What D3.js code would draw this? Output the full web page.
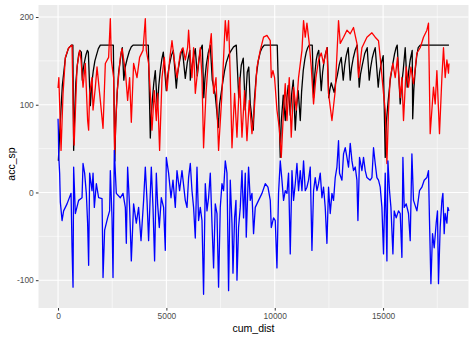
<!DOCTYPE html>
<html>
<head>
<meta charset="utf-8">
<script src="https://cdn.jsdelivr.net/npm/d3@7"></script>
<style>
  body { margin: 0; background: #ffffff; }
  svg { display: block; }
</style>
</head>
<body>
<svg id="chart" width="474" height="338"></svg>
<script>
// Modelled speed along the route: [cum_dist, acc_sp]
const modelSpeed = [
  [14,36],[106,82],[198,122],[337,153],[475,164],[614,168],[684,168],[720,48],[760,85],[820,125],[890,145],[950,157],
  [1006,162],[1075,160],[1121,128],[1160,140],[1213,148],[1290,157],[1352,162],[1398,160],[1490,99],[1560,125],[1628,139],[1700,150],[1767,156],[1860,164],[1951,168],
  [2551,168],[2620,36],[2660,80],[2735,116],[2800,138],[2874,151],[2920,160],[2966,165],[3035,128],[3100,143],[3197,153],[3290,161],[3382,166],[3474,168],[4166,168],
  [4258,62],[4300,88],[4350,105],[4420,125],[4488,139],[4581,97],[4650,122],[4719,139],[4790,152],[4858,160],[4996,116],[5060,133],[5134,145],[5230,156],[5319,162],[5457,119],
  [5520,136],[5596,148],[5670,158],[5734,164],[5872,130],[5964,148],[6080,162],[6103,128],[6170,143],[6241,153],[6334,164],[6426,133],[6500,150],[6564,162],
  [6656,168],[6726,108],[6780,130],[6841,145],[6930,159],[7026,168],[7118,128],[7256,111],[7395,74],[7450,100],[7579,122],[7680,138],[7764,148],[7880,157],[7994,162],[8100,166],
  [8225,168],[8340,108],[8400,130],[8456,145],[8548,153],[8640,94],[8690,120],[8732,137],[8802,143],[8871,101],[9009,71],[9060,105],[9147,133],[9240,150],
  [9332,160],[9420,165],[9517,168],[10116,168],[10255,40],[10300,80],[10393,111],[10486,82],[10550,106],[10624,122],[10716,88],[10780,112],[10855,128],[10947,71],
  [11010,98],[11085,116],[11178,82],[11240,115],[11316,139],[11390,152],[11454,160],[11520,165],[11593,168],[11731,168],[11791,108],[11850,135],[11915,151],[11970,158],[12031,162],[12146,116],
  [12210,137],[12284,151],[12350,159],[12423,165],[12492,108],[12550,118],[12607,125],[12746,114],[12810,125],[12884,133],[12980,146],[13069,154],[13161,128],[13230,145],[13299,156],[13392,165],
  [13484,128],[13550,143],[13622,153],[13710,162],[13807,168],[13899,120],[13960,135],[14038,145],[14150,158],[14268,165],[14361,128],[14430,143],[14499,153],[14570,160],[14637,165],[14776,120],
  [14840,137],[14914,147],[15006,156],[15099,40],[15150,80],[15237,105],[15330,128],[15422,143],[15530,158],[15600,165],[15652,168],[15790,101],[15860,124],[15929,139],[16021,165],[16113,120],
  [16180,138],[16252,151],[16344,162],[16367,84],[16420,118],[16482,139],[16550,155],[16621,165],[16713,168],[18040,168]
];

// Measured speed: [cum_dist, acc_sp]
const actualSpeed = [
  [0,119],[37,131],[138,48],[231,113],[337,154],[489,165],[646,168],[720,63],[743,54],[876,143],
  [996,162],[1061,151],[1153,120],[1259,147],[1365,82],[1412,71],[1458,113],[1568,131],[1615,94],[1721,120],
  [1799,143],[1951,105],[2076,73],[2182,147],[2334,154],[2413,198],[2459,151],[2565,131],[2611,44],[2722,113],
  [2874,154],[2952,164],[3105,139],[3211,105],[3303,131],[3381,80],[3487,147],[3644,131],[3764,154],[3921,162],
  [4027,198],[4073,162],[4179,147],[4258,113],[4336,71],[4442,116],[4535,82],[4595,113],[4687,48],[4798,131],
  [4903,154],[5028,116],[5148,151],[5259,173],[5365,151],[5489,131],[5642,159],[5766,165],[5872,151],[5978,165],
  [6025,185],[6103,154],[6181,131],[6255,165],[6334,113],[6458,143],[6564,165],[6643,131],[6716,51],[6827,113],
  [6947,154],[7072,181],[7178,113],[7289,131],[7408,48],[7565,113],[7718,196],[7796,173],[7870,196],[7948,131],
  [8027,51],[8147,113],[8257,63],[8377,131],[8488,63],[8608,116],[8718,59],[8825,105],[8949,67],[9055,94],
  [9180,143],[9332,162],[9484,177],[9641,179],[9794,173],[9840,131],[9918,139],[9992,131],[10102,94],[10209,74],
  [10301,40],[10407,94],[10485,124],[10564,82],[10670,131],[10762,63],[10868,120],[10993,94],[11099,131],[11256,162],
  [11330,196],[11408,177],[11486,193],[11592,170],[11685,143],[11791,101],[11902,131],[12022,151],[12146,159],[12252,147],
  [12409,165],[12483,113],[12640,82],[12792,116],[12944,196],[13023,170],[13175,177],[13332,185],[13484,181],[13636,188],
  [13793,170],[13867,131],[14024,165],[14254,177],[14485,182],[14637,177],[14789,173],[14868,154],[15020,113],[15099,94],
  [15177,33],[15251,94],[15329,131],[15454,147],[15560,131],[15666,154],[15790,108],[15869,131],[15943,82],[16067,143],
  [16173,120],[16284,143],[16404,124],[16561,159],[16713,165],[16865,177],[17022,185],[17096,193],[17174,67],[17326,120],
  [17405,101],[17483,139],[17603,67],[17714,131],[17788,165],[17866,131],[17945,151],[18018,136],[18040,147]
];

// Difference between measured and modelled speed: [cum_dist, acc_sp]
const speedDiff = [
  [0,84],[14,71],[28,44],[74,22],[106,-11],[185,-32],[258,-21],[415,-13],[600,-1],[646,-63],
  [692,-108],[720,29],[798,-24],[950,-9],[1107,-6],[1153,33],[1227,22],[1305,-1],[1365,-35],[1412,-83],
  [1458,22],[1568,2],[1615,22],[1675,-17],[1767,10],[1873,-6],[2030,-7],[2076,-97],[2150,-43],[2288,-29],
  [2380,-21],[2413,25],[2491,-29],[2537,-97],[2597,48],[2689,-1],[2874,-6],[2998,-1],[3105,-17],[3151,-58],
  [3211,29],[3303,-17],[3381,-78],[3487,-13],[3612,-35],[3718,-17],[3829,-55],[3949,-9],[4027,29],[4106,-9],
  [4179,-55],[4258,-1],[4304,29],[4382,-17],[4456,-78],[4535,22],[4595,-13],[4673,-40],[4765,-6],[4871,-17],
  [4950,-66],[4996,40],[5102,22],[5213,-6],[5305,14],[5411,-17],[5489,25],[5609,2],[5720,25],[5872,-9],
  [5951,-17],[6025,17],[6103,33],[6181,2],[6255,-17],[6334,-52],[6412,29],[6486,-32],[6564,-17],[6643,-32],
  [6716,-116],[6795,10],[6873,-21],[6947,-6],[7026,22],[7104,-35],[7178,-86],[7256,-13],[7335,-24],[7408,-108],
  [7487,-17],[7565,10],[7639,2],[7718,36],[7796,22],[7870,-112],[7948,14],[8027,-35],[8073,-92],[8147,-29],
  [8211,-9],[8257,-100],[8331,-40],[8410,-17],[8488,25],[8562,-29],[8640,22],[8686,-51],[8792,29],[8871,-9],
  [8949,-1],[9023,-47],[9101,-17],[9254,-9],[9411,-1],[9563,10],[9687,6],[9794,-9],[9840,-40],[9946,-29],
  [10024,-32],[10102,-86],[10176,-1],[10255,36],[10333,14],[10407,-9],[10486,2],[10564,-1],[10638,22],[10716,-70],
  [10795,25],[10868,-9],[10947,10],[11025,33],[11099,2],[11178,25],[11256,2],[11330,36],[11408,2],[11486,6],
  [11560,14],[11639,29],[11717,-66],[11791,2],[11869,17],[11948,2],[12022,10],[12100,22],[12178,-6],[12252,6],
  [12330,-17],[12409,-58],[12483,6],[12561,-24],[12640,-1],[12713,-9],[12792,17],[12870,29],[12944,59],[12990,22],
  [13101,14],[13175,44],[13254,51],[13332,40],[13406,29],[13484,56],[13563,36],[13636,25],[13715,29],[13793,14],
  [13839,-32],[13913,40],[14024,25],[14097,40],[14176,25],[14254,17],[14406,14],[14485,17],[14559,51],[14637,33],
  [14715,17],[14789,14],[14868,6],[14946,-17],[15020,-70],[15099,22],[15177,-78],[15223,36],[15297,2],[15362,-17],
  [15454,-70],[15514,-21],[15606,-29],[15712,-21],[15790,-24],[15869,-74],[15915,40],[15975,-17],[16067,-13],[16173,-24],
  [16252,-55],[16330,44],[16404,-9],[16561,-21],[16681,2],[16791,6],[16898,14],[17022,17],[17096,25],[17142,-32],
  [17207,-104],[17281,-47],[17359,-63],[17451,-35],[17511,-21],[17557,-104],[17635,-40],[17714,-9],[17760,-1],[17820,-47],
  [17866,-24],[17945,-35],[17990,-17],[18040,-21]
];

const xBreaks = [0, 5000, 10000, 15000];
const xMinorBreaks = [2500, 7500, 12500, 17500];
const yBreaks = [-100, 0, 100, 200];
const yMinorBreaks = [-50, 50, 150];
const xTitle = "cum_dist";
const yTitle = "acc_sp";

const width = 474, height = 338;
const margin = { top: 5, right: 5.5, bottom: 30, left: 38.5 };
const font = "'Liberation Sans', Arial, Helvetica, sans-serif";

const svg = d3.select("#chart");
svg.append("rect").attr("width", width).attr("height", height).attr("fill", "#ffffff");

// ggplot-style continuous scales: data range padded by 5% on each side
const all = modelSpeed.concat(actualSpeed, speedDiff);
function padded(ext) {
  const pad = (ext[1] - ext[0]) * 0.05;
  return [ext[0] - pad, ext[1] + pad];
}
const x = d3.scaleLinear()
  .domain(padded(d3.extent(all, d => d[0])))
  .range([margin.left, width - margin.right]);
const y = d3.scaleLinear()
  .domain(padded(d3.extent(all, d => d[1])))
  .range([height - margin.bottom, margin.top]);

const [px0, px1] = x.range();
const [py1, py0] = y.range();

// panel background
svg.append("rect")
  .attr("x", px0).attr("y", py0)
  .attr("width", px1 - px0).attr("height", py1 - py0)
  .attr("fill", "#EBEBEB");

// grid lines
const grid = svg.append("g");
grid.selectAll(".vminor").data(xMinorBreaks).join("line")
  .attr("x1", d => x(d)).attr("x2", d => x(d)).attr("y1", py0).attr("y2", py1)
  .attr("stroke", "#ffffff").attr("stroke-width", 0.55);
grid.selectAll(".hminor").data(yMinorBreaks).join("line")
  .attr("y1", d => y(d)).attr("y2", d => y(d)).attr("x1", px0).attr("x2", px1)
  .attr("stroke", "#ffffff").attr("stroke-width", 0.55);
grid.selectAll(".vmajor").data(xBreaks).join("line")
  .attr("x1", d => x(d)).attr("x2", d => x(d)).attr("y1", py0).attr("y2", py1)
  .attr("stroke", "#ffffff").attr("stroke-width", 1.1);
grid.selectAll(".hmajor").data(yBreaks).join("line")
  .attr("y1", d => y(d)).attr("y2", d => y(d)).attr("x1", px0).attr("x2", px1)
  .attr("stroke", "#ffffff").attr("stroke-width", 1.1);

// series
const line = d3.line().x(d => x(d[0])).y(d => y(d[1]));
const series = [
  { data: modelSpeed, color: "#000000" },
  { data: actualSpeed, color: "#FF0000" },
  { data: speedDiff, color: "#0000FF" }
];
svg.append("g").selectAll("path").data(series).join("path")
  .attr("d", s => line(s.data))
  .attr("fill", "none")
  .attr("stroke", s => s.color)
  .attr("stroke-width", 1.3)
  .attr("stroke-linejoin", "round");

// axes
const xAxis = svg.append("g")
  .attr("transform", `translate(0,${py1})`)
  .call(d3.axisBottom(x).tickValues(xBreaks).tickFormat(d3.format("d")).tickSize(2.6).tickPadding(2));
const yAxis = svg.append("g")
  .attr("transform", `translate(${px0},0)`)
  .call(d3.axisLeft(y).tickValues(yBreaks).tickFormat(d => d < 0 ? "-" + Math.abs(d) : String(d)).tickSize(2.6).tickPadding(2.2));

[xAxis, yAxis].forEach(g => {
  g.select(".domain").remove();
  g.selectAll(".tick line").attr("stroke", "#333333").attr("stroke-width", 1.0);
  g.selectAll(".tick text")
    .attr("fill", "#4D4D4D")
    .style("font-family", font)
    .style("font-size", "8.4px");
});

// axis titles
svg.append("text")
  .attr("x", (px0 + px1) / 2).attr("y", 332)
  .attr("text-anchor", "middle")
  .attr("fill", "#000000")
  .style("font-family", font).style("font-size", "10.5px")
  .text(xTitle);
svg.append("text")
  .attr("transform", "translate(15,164) rotate(-90)")
  .attr("text-anchor", "middle")
  .attr("fill", "#000000")
  .style("font-family", font).style("font-size", "10.5px")
  .text(yTitle);
</script>
</body>
</html>
